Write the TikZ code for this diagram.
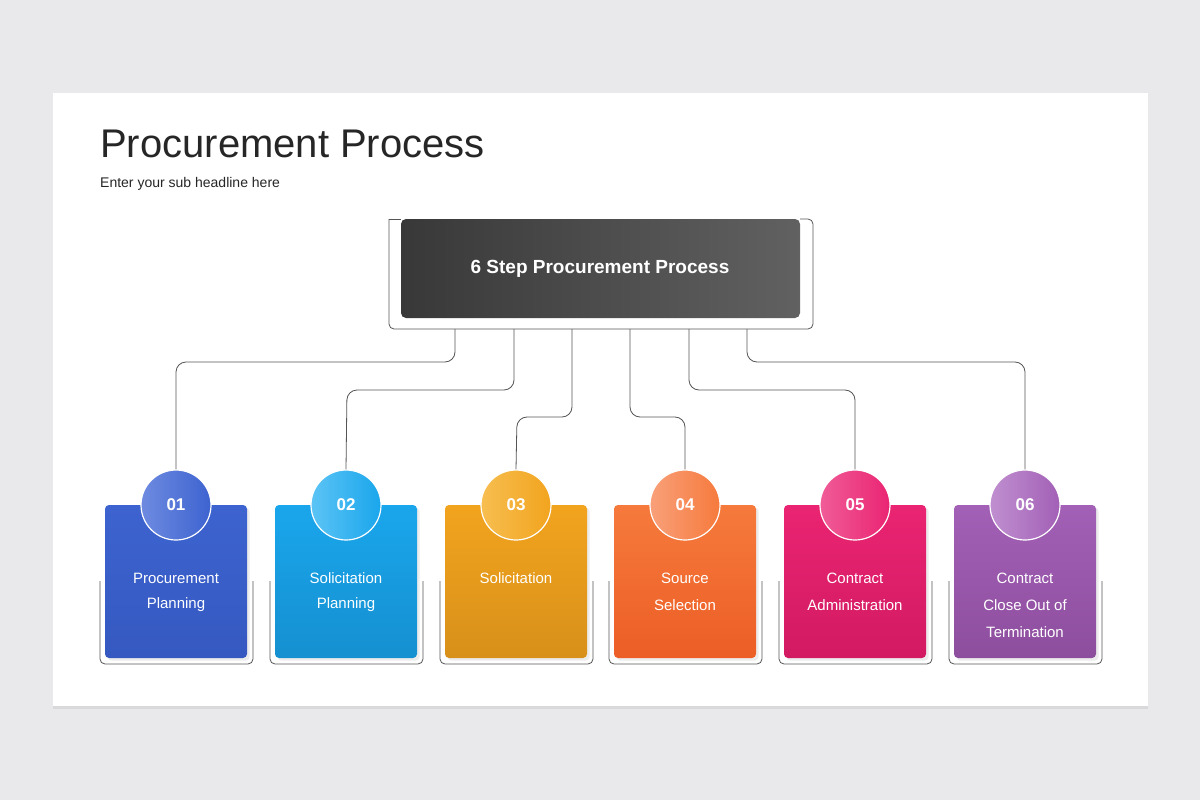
\documentclass[tikz,border=0pt]{standalone}
\usepackage{fontspec}
\setmainfont{Liberation Sans}
\usetikzlibrary{shadows}
\definecolor{bg}{HTML}{E9E8EA}
\definecolor{lnc}{HTML}{555555}
\begin{document}
\begin{tikzpicture}[x=1pt,y=-1pt,
  conn/.style={draw=lnc,line width=0.8pt,rounded corners=10pt},
  frame/.style={draw=lnc,line width=0.8pt,rounded corners=5pt},
  lbl/.style={text=white,font=\fontsize{15}{15}\selectfont,anchor=center}]
\fill[bg] (0,0) rectangle (1200,800);
\fill[white,drop shadow={opacity=0.15,shadow xshift=0pt,shadow yshift=-3pt}] (53,93) rectangle (1148,706);
\node[anchor=base west,inner sep=0,text=black!85,font=\fontsize{40}{40}\selectfont] (title) at (100,157) {Procurement Process};
\node[anchor=base west,inner sep=0,text=black!85,font=\fontsize{14}{14}\selectfont] (sub) at (100,187) {Enter your sub headline here};
% top frame
\draw[frame] (389,219) -- (389,329) -- (813,329) -- (813,219) -- (800,219);
\draw[lnc,line width=0.8pt] (389,219) -- (401,219);
\path[left color=black!78,right color=black!62,rounded corners=5pt] (401,219) rectangle (800,318);
\node[text=white,font=\bfseries\fontsize{19}{19}\selectfont] (head) at (600,269) {6 Step Procurement Process};
% cards
\foreach \i/\x/\c/\cl/\cd/\tA/\tB/\tC in {
 1/176/3D63D0/6E8BE0/3559C0/Procurement/Planning/,
 2/346/1AA6EC/5CC4F5/1590D0/Solicitation/Planning/,
 3/516/F2A41E/F7BE50/D8901A/Solicitation//,
 4/685/F67A3C/F9A07A/EC5E26/Source/Selection/,
 5/855/EA2472/F05C98/D21A62/Contract/Administration/,
 6/1025/A260B6/C08FD0/8E4E9E/Contract/Close Out of/Termination}{
  \definecolor{cm}{HTML}{\c}\definecolor{cli}{HTML}{\cl}\definecolor{cdk}{HTML}{\cd}
  \draw[frame] (\x-76,581) -- (\x-76,664) -- (\x+77,664) -- (\x+77,581);
  \path[top color=cm,bottom color=cdk,rounded corners=4pt,drop shadow={opacity=0.15}] (\x-71,505) rectangle (\x+71,658);
  \node[circle,minimum size=70pt,inner sep=0,draw=white,line width=1.2pt,left color=cli,right color=cm,
        text=white,font=\bfseries\fontsize{17}{17}\selectfont] (c\i) at (\x,505) {0\i};
  \node[lbl] (a\i) at (\x,578) {\tA};
  \node[lbl] (b\i) at (\x,605) {\tB};
  \node[lbl] (d\i) at (\x,632) {\tC};
}
\coordinate (s1) at (455,329); \coordinate (s2) at (514,329); \coordinate (s3) at (572,329);
\coordinate (s4) at (630,329); \coordinate (s5) at (689,329); \coordinate (s6) at (747,329);
\draw[conn] (s1) |- (176,362) -- (c1.north);
\draw[conn] (s2) |- (347,390) -- (c2.north);
\draw[conn] (s3) |- (517,417) -- (c3.north);
\draw[conn] (s4) |- (685,417) -- (c4.north);
\draw[conn] (s5) |- (855,390) -- (c5.north);
\draw[conn] (s6) |- (1025,362) -- (c6.north);
\end{tikzpicture}
\end{document}
